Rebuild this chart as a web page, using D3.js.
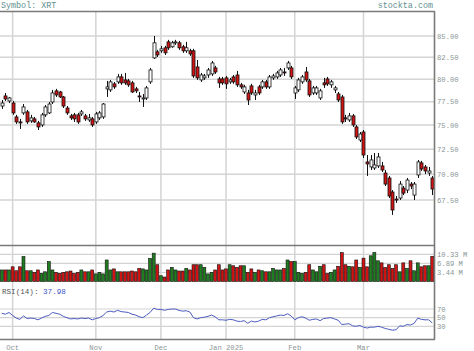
<!DOCTYPE html>
<html>
<head>
<meta charset="utf-8">
<script src="https://cdn.jsdelivr.net/npm/d3@7"></script>
<style>
  body { margin: 0; background: #fff; }
  svg { display: block; }
  text { font-family: "Liberation Mono", "DejaVu Sans Mono", monospace; }
</style>
</head>
<body>
<div id="chart"></div>
<script>
// daily OHLC (Sep 26 2024 .. Mar 2025)
const opens = [77.03,78.13,77.58,77.36,75.86,75.33,76.29,76.40,75.44,75.65,75.23,75.01,76.08,76.29,77.47,78.69,78.57,78.02,76.82,75.97,
  76.08,76.08,76.18,75.97,75.54,75.65,75.33,75.76,75.86,78.91,78.80,79.47,79.69,80.25,79.91,79.80,79.58,78.91,78.13,77.80,
  77.91,79.69,82.42,83.13,83.25,83.60,84.30,83.72,84.19,84.19,83.72,83.25,83.25,83.25,81.38,79.91,80.14,80.47,80.59,81.27,
  80.02,80.02,80.14,79.69,80.25,80.47,79.36,78.57,78.46,79.24,78.24,79.13,79.13,79.69,79.13,80.14,80.25,80.47,80.81,81.27,
  81.27,78.46,78.80,79.69,80.81,79.80,78.46,78.46,77.91,79.58,80.02,79.36,78.80,78.35,78.02,75.76,75.54,75.97,74.80,73.44,
  74.27,71.21,70.71,70.61,70.81,70.81,70.11,69.62,68.26,67.59,67.69,68.64,68.45,69.03,67.97,69.92,71.11,70.71,70.11,69.62];
const highs = [77.69,78.46,78.02,77.58,76.08,75.65,77.25,76.61,76.08,75.86,75.44,76.29,77.14,77.47,78.80,78.91,78.69,78.13,77.03,76.18,
  76.29,76.29,76.61,76.18,76.18,75.86,76.40,76.50,77.36,79.80,79.91,79.69,80.59,80.59,80.70,80.02,79.80,79.13,78.57,78.35,
  79.24,81.27,85.00,83.36,83.83,83.83,84.54,84.42,84.54,84.42,83.95,84.30,83.48,83.48,82.19,80.70,80.59,81.27,82.07,81.50,
  80.25,80.25,80.36,80.14,80.47,80.93,79.58,79.36,78.80,79.47,78.80,79.36,79.91,79.91,80.47,80.59,80.93,81.27,81.27,82.07,
  81.50,79.24,80.14,80.47,81.38,80.02,79.24,79.24,78.91,80.14,80.25,79.91,79.24,78.57,78.24,76.08,76.29,76.18,75.01,74.27,
  74.48,71.91,71.91,72.11,72.11,71.21,70.41,69.82,68.45,67.88,69.32,68.84,69.62,69.23,69.23,71.41,71.31,70.91,70.71,69.82];
const lows = [76.72,77.58,77.36,76.08,75.12,74.59,76.08,75.12,75.23,75.23,74.48,74.80,75.86,76.18,77.25,78.02,77.91,76.82,76.08,75.54,
  75.33,75.12,75.97,75.44,75.33,74.80,75.12,75.54,75.65,78.02,78.57,78.91,79.47,79.36,79.36,79.13,78.46,78.46,77.47,76.93,
  77.69,79.47,82.30,82.54,83.01,82.77,83.36,83.60,83.95,83.36,83.01,83.01,82.66,80.14,79.91,79.69,79.91,80.14,80.36,80.59,
  79.02,79.36,78.91,79.47,79.47,79.13,78.91,78.35,77.14,78.24,77.69,78.24,78.91,78.91,78.91,79.91,80.02,80.25,80.36,81.04,
  80.02,77.80,78.57,79.47,79.69,78.02,78.24,78.24,77.69,79.02,79.24,79.02,78.46,77.47,75.12,75.33,75.33,74.80,73.54,73.23,
  71.61,69.82,70.41,70.41,70.61,70.21,68.84,67.69,66.10,67.22,67.50,67.97,68.16,68.55,67.50,69.62,70.31,70.01,69.82,67.97];
const closes = [77.36,77.80,77.91,76.29,75.33,75.22,76.93,75.33,75.76,75.33,74.80,76.08,76.93,77.25,78.46,78.24,78.02,77.03,76.29,75.76,
  75.65,75.33,76.40,75.65,75.76,75.01,76.18,76.29,77.25,79.13,79.69,79.13,80.25,79.58,79.58,79.36,78.57,78.69,78.02,77.91,
  79.02,81.04,84.19,82.77,83.48,83.01,83.60,84.19,84.30,83.60,83.25,83.60,82.89,80.36,80.14,80.47,80.36,81.04,81.84,80.81,
  79.58,79.58,79.47,79.91,79.69,79.36,79.13,79.13,77.69,78.46,78.46,78.46,79.69,79.13,80.25,80.36,80.70,81.04,80.70,81.84,
  80.25,79.02,79.91,80.25,79.91,78.24,79.02,79.02,78.69,79.36,79.47,79.69,79.02,77.69,75.33,75.65,75.97,75.01,73.75,74.06,
  71.91,71.01,71.41,70.91,71.71,70.41,69.03,67.88,66.56,67.50,69.03,68.16,69.42,68.84,69.03,71.21,70.51,70.31,70.31,68.55];
// volume in millions of shares
const volumes = [4.4,4.4,4.4,5.6,4.1,5.6,9.5,4.1,4.1,3.5,4.4,3.1,3.7,7.6,4.4,3.5,3.1,3.5,3.7,4.0,
  3.1,3.5,4.4,3.7,3.7,4.4,2.9,3.5,2.9,8.2,4.4,4.8,3.7,3.7,3.7,3.7,4.0,3.7,5.0,4.8,
  4.4,8.8,10.8,6.4,2.2,1.7,4.4,5.4,4.4,4.0,4.0,5.0,4.4,6.4,6.4,6.4,5.4,2.9,3.5,4.4,
  6.4,4.4,4.8,6.4,6.0,5.4,6.0,6.0,3.5,4.8,3.5,4.4,4.1,3.7,3.7,5.0,4.4,4.4,5.0,8.2,
  7.6,7.6,3.5,3.1,3.5,6.4,4.4,3.7,5.8,6.4,3.1,3.5,4.4,5.8,11.0,6.4,5.8,5.6,8.2,5.4,
  8.9,5.6,9.8,11.0,7.9,7.1,5.4,6.4,5.0,6.4,3.7,7.1,5.0,7.9,4.1,7.1,5.6,6.0,6.0,9.6];
const rsi = [60,58,62,55,49,46,54,48,49,48,45,49,53,55,62,60,58,53,50,47,
  48,47,49,48,49,45,48,50,55,63,65,63,67,64,63,62,58,56,52,50,
  56,62,72,69,69,67,69,70,70,67,65,66,63,50,47,50,51,53,56,52,
  45,45,44,46,45,42,41,43,37,42,40,42,46,45,50,52,54,56,55,59,
  54,45,50,52,49,44,46,47,43,48,49,50,47,44,34,35,36,31,30,32,
  28,26,28,28,30,28,25,23,21,22,31,30,34,33,37,49,46,45,45,37.98];

const monthIdx = [3, 26, 44, 62, 81, 100];
const monthLabels = ['Oct', 'Nov', 'Dec', 'Jan 2025', 'Feb', 'Mar'];
const priceTicks = [85, 82.5, 80, 77.5, 75, 72.5, 70, 67.5];
const volTicks = [10.33, 6.89, 3.44];
const rsiTicks = [70, 50, 30];

const width = 474, height = 351;
const plotRight = 434;
const plotTop = 11.5, priceBottom = 245.5, volBottom = 281.5, rsiBottom = 339.5;
const upColor = '#ffffff', downColor = '#d01414';
const volUp = '#1f7d1f', volDown = '#d01414';
const gridColor = '#d4d4d4', frameColor = '#7a7a7a', labelColor = '#8a9696';

const data = opens.map((o, i) => ({
  i, open: o, high: highs[i], low: lows[i], close: closes[i], vol: volumes[i], rsi: rsi[i]
}));

const svg = d3.select('#chart').append('svg')
  .attr('width', width)
  .attr('height', height);

const x = d3.scaleBand()
  .domain(d3.range(data.length))
  .range([0, plotRight])
  .paddingInner(0.18)
  .paddingOuter(0.08);
const cx = i => x(i) + x.bandwidth() / 2;

const y = d3.scaleLog().domain([67.5, 85]).range([200, 36]);
const yVol = d3.scaleLinear().domain([0, 10.33]).range([volBottom, 254.4]);
const yRsi = d3.scaleLinear().domain([30, 70]).range([326.3, 309]);

// header text
svg.append('text')
  .attr('x', 1).attr('y', 8)
  .style('font-size', '8.4px').style('fill', '#5f8f8f')
  .text('Symbol: XRT');
svg.append('text')
  .attr('x', 433).attr('y', 8)
  .attr('text-anchor', 'end')
  .style('font-size', '8.4px').style('fill', '#5f8f8f')
  .text('stockta.com');

// horizontal grids
svg.append('g').selectAll('line')
  .data(priceTicks)
  .enter().append('line')
  .attr('x1', 0).attr('x2', plotRight)
  .attr('y1', d => y(d)).attr('y2', d => y(d))
  .attr('stroke', gridColor).attr('stroke-width', 1.5);

svg.append('g').selectAll('line')
  .data(volTicks)
  .enter().append('line')
  .attr('x1', 0).attr('x2', plotRight)
  .attr('y1', d => yVol(d)).attr('y2', d => yVol(d))
  .attr('stroke', gridColor).attr('stroke-width', 1.2);

svg.append('g').selectAll('line')
  .data(rsiTicks)
  .enter().append('line')
  .attr('x1', 0).attr('x2', plotRight)
  .attr('y1', d => yRsi(d)).attr('y2', d => yRsi(d))
  .attr('stroke', gridColor).attr('stroke-width', 1.2);

// month grid lines
svg.append('g').selectAll('line')
  .data(monthIdx)
  .enter().append('line')
  .attr('x1', d => cx(d)).attr('x2', d => cx(d))
  .attr('y1', plotTop).attr('y2', rsiBottom)
  .attr('stroke', gridColor).attr('stroke-width', 1.5);

// tick labels on the right
const tickStyle = sel => sel
  .attr('x', 437)
  .attr('dy', '0.35em')
  .style('font-size', '7.2px')
  .style('fill', labelColor);

svg.append('g').selectAll('text')
  .data(priceTicks)
  .enter().append('text')
  .attr('y', d => y(d))
  .call(tickStyle)
  .text(d => d.toFixed(2));

svg.append('g').selectAll('text')
  .data(volTicks)
  .enter().append('text')
  .attr('y', d => yVol(d))
  .call(tickStyle)
  .text(d => d.toFixed(2) + ' M');

svg.append('g').selectAll('text')
  .data(rsiTicks)
  .enter().append('text')
  .attr('y', d => yRsi(d))
  .call(tickStyle)
  .text(d => d);

// month labels
svg.append('g').selectAll('text')
  .data(monthIdx)
  .enter().append('text')
  .attr('x', d => cx(d))
  .attr('y', 349.5)
  .attr('text-anchor', 'middle')
  .style('font-size', '7.2px')
  .style('fill', labelColor)
  .text((d, k) => monthLabels[k]);

// candles
const candles = svg.append('g');
candles.selectAll('.wick')
  .data(data)
  .enter().append('line')
  .attr('class', 'wick')
  .attr('x1', d => Math.round(cx(d.i)) + 0.5)
  .attr('x2', d => Math.round(cx(d.i)) + 0.5)
  .attr('y1', d => y(d.high))
  .attr('y2', d => y(d.low))
  .attr('stroke', '#111')
  .attr('stroke-width', 1);

candles.selectAll('.body')
  .data(data)
  .enter().append('rect')
  .attr('class', 'body')
  .attr('x', d => Math.round(cx(d.i)) - 1)
  .attr('width', 3)
  .attr('y', d => y(Math.max(d.open, d.close)))
  .attr('height', d => Math.max(1, y(Math.min(d.open, d.close)) - y(Math.max(d.open, d.close))))
  .attr('fill', d => d.close >= d.open ? upColor : downColor)
  .attr('stroke', '#111')
  .attr('stroke-width', 0.8);

// volume bars
svg.append('g').selectAll('rect')
  .data(data)
  .enter().append('rect')
  .attr('x', d => x(d.i))
  .attr('width', x.bandwidth())
  .attr('y', d => yVol(d.vol))
  .attr('height', d => volBottom - yVol(d.vol))
  .attr('fill', d => d.close >= d.open ? volUp : volDown)
  .attr('stroke', '#111')
  .attr('stroke-width', 0.6);

// rsi line
svg.append('path')
  .datum(data)
  .attr('fill', 'none')
  .attr('stroke', '#4b5cc0')
  .attr('stroke-width', 1)
  .attr('d', d3.line().x(d => cx(d.i)).y(d => yRsi(d.rsi)));

const rsiLabel = svg.append('text')
  .attr('x', 2).attr('y', 293.5)
  .style('font-size', '7.6px')
  .attr('xml:space', 'preserve');
rsiLabel.append('tspan').style('fill', '#555').text('RSI(14): ');
rsiLabel.append('tspan').style('fill', '#3d55c4').text(rsi[rsi.length - 1].toFixed(2));

// frame
const frame = svg.append('g')
  .attr('stroke', frameColor)
  .attr('stroke-width', 1.6);
frame.append('line').attr('x1', 0).attr('x2', plotRight + 1).attr('y1', plotTop).attr('y2', plotTop);
frame.append('line').attr('x1', 0).attr('x2', plotRight + 1).attr('y1', priceBottom).attr('y2', priceBottom);
frame.append('line').attr('x1', 0).attr('x2', plotRight + 1).attr('y1', rsiBottom).attr('y2', rsiBottom);
frame.append('line').attr('x1', plotRight + 0.5).attr('x2', plotRight + 0.5).attr('y1', plotTop).attr('y2', rsiBottom);
</script>
</body>
</html>
